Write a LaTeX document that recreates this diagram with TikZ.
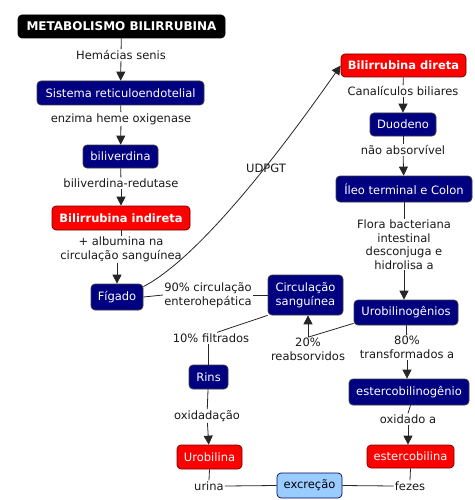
\documentclass[tikz,border=0pt]{standalone}
\usepackage{fontspec}
\setmainfont{DejaVu Sans}
\usetikzlibrary{arrows.meta}
\definecolor{navyfill}{RGB}{0,0,128}
\definecolor{redfill}{RGB}{255,0,0}
\definecolor{lightfill}{RGB}{153,204,255}
\begin{document}
\begin{tikzpicture}[x=1pt,y=-1pt,
  font=\fontsize{11.5}{13.5}\selectfont,
  box/.style={rounded corners=4pt, inner sep=1pt, align=center, line width=0.7pt},
  navybox/.style={box, fill=navyfill, draw=black!75, text=white},
  redbox/.style={box, fill=redfill, draw=red!45!black, text=white},
  titlebox/.style={box, fill=black, draw=black, text=white, font=\fontsize{12}{14}\selectfont\bfseries},
  lightbox/.style={box, fill=lightfill, draw=navyfill!80!black, text=black},
  lbl/.style={inner sep=1pt, align=center, text=black!90},
  con/.style={draw=black!85, line width=0.8pt},
  arr/.style={con, -{Triangle[length=9pt,width=9pt]}}
]
\useasboundingbox (0,0) rectangle (474,500);

% boxes
\node[titlebox, minimum width=207pt, minimum height=23pt] (title) at (121.5,26.5) {METABOLISMO BILIRRUBINA};
\node[navybox, minimum width=167pt, minimum height=24pt] (sre) at (120.5,93) {Sistema reticuloendotelial};
\node[navybox, minimum width=75pt, minimum height=23pt] (biliv) at (120.5,156.5) {biliverdina};
\node[redbox, minimum width=138pt, minimum height=24pt, font=\fontsize{11.5}{13.5}\selectfont\bfseries] (bi) at (121,218) {Bilirrubina indireta};
\node[navybox, minimum width=52pt, minimum height=26pt] (fig) at (117,297) {Fígado};
\node[navybox, minimum width=75pt, minimum height=40pt] (circ) at (305.5,295) {Circulação\\sanguínea};
\node[navybox, minimum width=39pt, minimum height=24pt] (rins) at (208.5,377) {Rins};
\node[redbox, minimum width=65pt, minimum height=24pt] (urob) at (209.5,457) {Urobilina};
\node[lightbox, minimum width=65pt, minimum height=25pt] (excr) at (309.5,485.5) {excreção};
\node[redbox, minimum width=87pt, minimum height=23pt] (esterc) at (410.5,456.5) {estercobilina};
\node[navybox, minimum width=120pt, minimum height=26pt] (esterg) at (409,392) {estercobilinogênio};
\node[navybox, minimum width=104pt, minimum height=25pt] (urog) at (406,312.5) {Urobilinogênios};
\node[navybox, minimum width=136pt, minimum height=26pt] (ileo) at (404,189) {Íleo terminal e Colon};
\node[navybox, minimum width=66pt, minimum height=23pt] (duod) at (403,124.5) {Duodeno};
\node[redbox, minimum width=125pt, minimum height=23pt, font=\fontsize{11.5}{13.5}\selectfont\bfseries] (bd) at (403.5,65.5) {Bilirrubina direta};

% labels
\node[lbl] (l1) at (121,55) {Hemácias senis};
\node[lbl] (l2) at (121,119) {enzima heme oxigenase};
\node[lbl] (l3) at (121,183) {biliverdina-redutase};
\node[lbl] (l4) at (121,249.5) {+ albumina na\\circulação sanguínea};
\node[lbl] (l5) at (208,295) {90\% circulação\\enterohepática};
\node[lbl] (l6) at (211,338) {10\% filtrados};
\node[lbl] (l7) at (207,416) {oxidadação};
\node[lbl] (l8) at (209,486) {urina};
\node[lbl] (l9) at (410,486) {fezes};
\node[lbl] (l10) at (408,419) {oxidado a};
\node[lbl] (l11) at (407,347.5) {80\%\\transformados a};
\node[lbl] (l12) at (308,349.5) {20\%\\reabsorvidos};
\node[lbl] (l13) at (404,244.5) {Flora bacteriana\\intestinal\\desconjuga e\\hidrolisa a};
\node[lbl] (l14) at (403,150) {não absorvível};
\node[lbl] (l15) at (403,91) {Canalículos biliares};
\node[lbl] (l16) at (266,168) {UDPGT};

% connectors
\draw[con] (title) -- (l1);
\draw[arr] (l1) -- (sre);
\draw[con] (sre) -- (l2);
\draw[arr] (l2) -- (biliv);
\draw[con] (biliv) -- (l3);
\draw[arr] (l3) -- (bi);
\draw[con] (bi) -- (l4);
\draw[arr] (l4.south -| fig.north) -- (fig.north);
\draw[arr] ([yshift=-3pt]fig.north east) .. controls (185,265) and (250,195) .. (bd.west);
\draw[con] (fig.east) -- (l5.west);
\draw[con] (l5.east) -- (circ.west);
\draw[con] (circ.south west) -- ([xshift=6pt]l6.north);
\draw[con] (l6.south -| rins.north) -- (rins.north);
\draw[con] (rins) -- (l7);
\draw[arr] (l7) -- (urob);
\draw[con] (urob.south) -- (l8.north);
\draw[con] (l8.east) -- (excr.west);
\draw[con] (excr.east) -- (l9.west);
\draw[con] (l9.north) -- (esterc.south);
\draw[con] (esterc.north |- esterg.south) -- (l10.north);
\draw[arr] (l10.south) -- (l10.south |- esterc.north);
\draw[con] (urog) -- (l11);
\draw[arr] (l11.south) -- (l11.south |- esterg.north);
\draw[con] ([yshift=2pt]urog.south west) -- (l12.north);
\draw[arr] (l12.north) -- (l12.north |- circ.south);
\draw[con] (ileo) -- (l13);
\draw[arr] (l13.south) -- (l13.south |- urog.north);
\draw[con] (duod) -- (l14);
\draw[arr] (l14) -- (ileo);
\draw[con] (bd) -- (l15);
\draw[arr] (l15) -- (duod);
\end{tikzpicture}
\end{document}
